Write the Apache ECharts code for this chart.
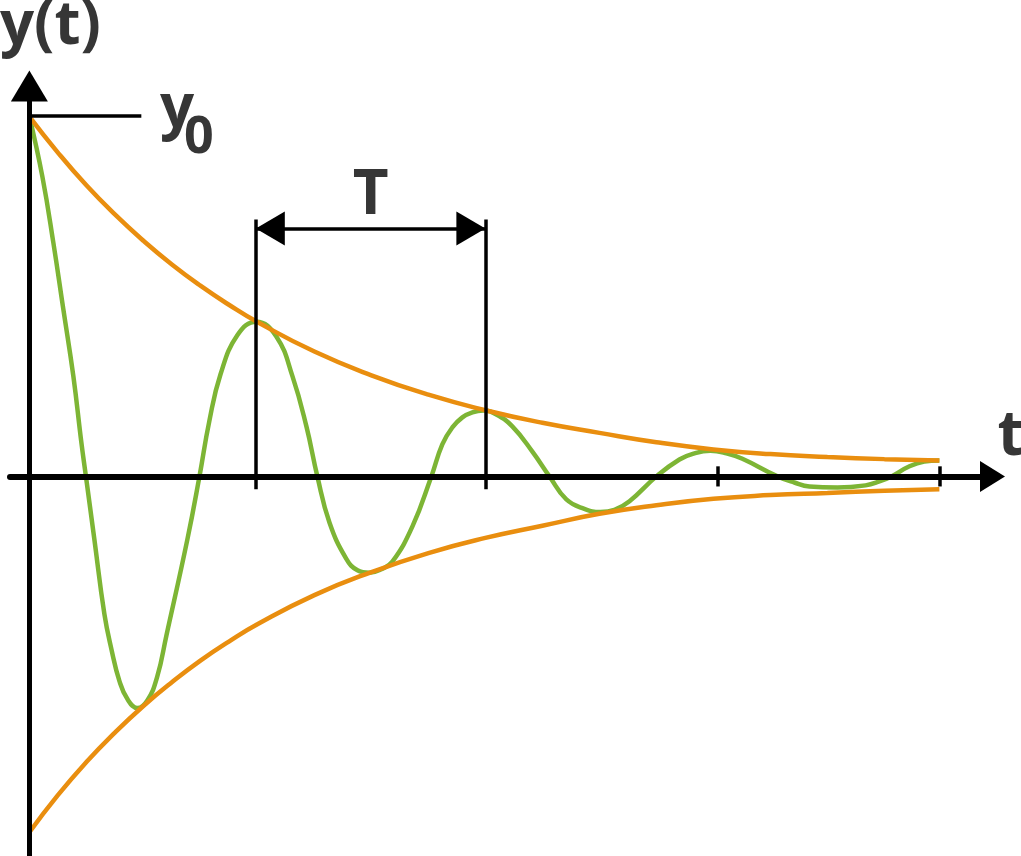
<!DOCTYPE html>
<html>
<head>
<meta charset="utf-8">
<script src="https://cdn.jsdelivr.net/npm/echarts@6/dist/echarts.min.js"></script>
<style>
html,body{margin:0;padding:0;background:#fff;}
#chart{width:1021px;height:856px;}
</style>
</head>
<body>
<div id="chart"></div>
<script>
// ---- data (t in periods T, y in units of y0) ----
const greenT = [0, 0.057, 0.105, 0.149, 0.193, 0.228, 0.248, 0.285, 0.329, 0.360, 0.395, 0.430, 0.474, 0.518, 0.561, 0.601, 0.693, 0.746, 0.789, 0.838, 0.912, 0.996, 1.083, 1.154, 1.215, 1.263, 1.316, 1.390, 1.439, 1.491, 1.544, 1.592, 1.680, 1.763, 1.811, 1.855, 1.899, 1.943, 1.991, 2.048, 2.118, 2.206, 2.281, 2.355, 2.434, 2.504, 2.566, 2.632, 2.750, 2.851, 2.917, 2.987, 3.057, 3.127, 3.281, 3.355, 3.421, 3.544, 3.667, 3.728, 3.781, 3.860, 3.925, 3.991];
const greenY = [1.0, 0.833, 0.650, 0.464, 0.278, 0.094, 0, -0.175, -0.383, -0.481, -0.569, -0.619, -0.644, -0.622, -0.556, -0.442, -0.175, 0, 0.153, 0.283, 0.392, 0.430, 0.389, 0.278, 0.139, 0, -0.128, -0.229, -0.261, -0.268, -0.258, -0.237, -0.139, 0, 0.089, 0.136, 0.164, 0.178, 0.183, 0.172, 0.139, 0.069, 0, -0.064, -0.090, -0.099, -0.093, -0.069, 0, 0.047, 0.064, 0.071, 0.064, 0.049, 0, -0.017, -0.028, -0.031, -0.025, -0.014, 0, 0.028, 0.041, 0.044];

const upperT = [0, 0.125, 0.25, 0.375, 0.5, 0.625, 0.75, 0.875, 1.0, 1.25, 1.5, 1.75, 2.0, 2.25, 2.5, 2.75, 3.0, 3.25, 3.5, 3.75, 3.991];
const upperY = [1.0, 0.900, 0.809, 0.728, 0.655, 0.589, 0.530, 0.477, 0.429, 0.347, 0.281, 0.227, 0.184, 0.149, 0.121, 0.095, 0.075, 0.062, 0.054, 0.048, 0.044];

const lowerT = [0, 0.125, 0.25, 0.375, 0.5, 0.625, 0.75, 0.875, 1.0, 1.25, 1.5, 1.75, 2.0, 2.25, 2.5, 2.75, 3.0, 3.25, 3.5, 3.75, 3.991];
const lowerY = [-0.989, -0.886, -0.794, -0.712, -0.638, -0.572, -0.512, -0.459, -0.411, -0.330, -0.266, -0.213, -0.171, -0.137, -0.104, -0.080, -0.062, -0.052, -0.046, -0.040, -0.036];

// annotation marks (data coordinates)
const y0LineT = [0, 0.491];
const y0Level = 1.003;
const periodEnds = [0.993, 2.0];
const bracketRange = [0.714, -0.036];
const arrowLevel = 0.689;
const tickT = [3.018, 3.991];
const tickRange = [0.028, -0.028];

// axis ranges
const tRange = [-0.085, 4.224];
const yRange = [-1.055, 1.085];

// labels
const yAxisName = 'y(t)';
const xAxisName = 't';
const periodLabel = 'T';
const y0Main = 'y';
const y0Sub = '0';

const ORANGE = '#e98e0f';
const GREEN = '#7db535';
const TEXT = '#363636';
const FONT = 'Open Sans';

const zip = (a, b) => a.map((v, i) => [v, b[i]]);

const chart = echarts.init(document.getElementById('chart'), null, {renderer: 'canvas'});

const markData = [
  [{coord: [y0LineT[0], y0Level]}, {coord: [y0LineT[1], y0Level]}],
  [{coord: [periodEnds[0], bracketRange[0]]}, {coord: [periodEnds[0], bracketRange[1]]}],
  [{coord: [periodEnds[1], bracketRange[0]]}, {coord: [periodEnds[1], bracketRange[1]]}],
  [{coord: [tickT[0], tickRange[0]]}, {coord: [tickT[0], tickRange[1]]}],
  [{coord: [tickT[1], tickRange[0]]}, {coord: [tickT[1], tickRange[1]]}],
  [
    {coord: [periodEnds[0], arrowLevel], symbol: 'triangle', symbolSize: [34, 29], symbolOffset: [0, 14.5],
     label: {show: true, formatter: periodLabel, position: 'middle', distance: 1,
             fontSize: 62, fontWeight: 'bold', fontFamily: FONT, color: TEXT}},
    {coord: [periodEnds[1], arrowLevel], symbol: 'triangle', symbolSize: [34, 29], symbolOffset: [0, 14.5]}
  ]
];

chart.setOption({
  animation: false,
  backgroundColor: '#fff',
  grid: {left: 10, right: 28.5, top: 86, bottom: 0, containLabel: false, outerBoundsMode: 'none'},
  xAxis: {
    type: 'value', min: tRange[0], max: tRange[1], z: 10,
    name: xAxisName, nameLocation: 'end', nameGap: 5, nameMoveOverlap: false,
    nameTextStyle: {fontSize: 62, fontWeight: 'bold', fontFamily: FONT, color: TEXT,
                    align: 'left', verticalAlign: 'bottom', padding: [0, 0, 8, 0]},
    axisLine: {show: true, onZero: true, symbol: ['none', 'triangle'], symbolSize: [31, 25],
               lineStyle: {color: '#000', width: 6}},
    axisTick: {show: false}, axisLabel: {show: false}, splitLine: {show: false}
  },
  yAxis: {
    type: 'value', min: yRange[0], max: yRange[1], z: 10,
    name: yAxisName, nameLocation: 'end', nameGap: 29, nameMoveOverlap: false,
    nameTextStyle: {fontSize: 60, fontWeight: 'bold', fontFamily: FONT, color: TEXT,
                    align: 'center', verticalAlign: 'bottom', padding: [0, 0, 0, 42]},
    axisLine: {show: true, onZero: true, symbol: ['none', 'triangle'], symbolSize: [37, 31],
               lineStyle: {color: '#000', width: 5}},
    axisTick: {show: false}, axisLabel: {show: false}, splitLine: {show: false}
  },
  series: [
    {
      name: 'y(t)', type: 'line', data: zip(greenT, greenY), smooth: 0.45, smoothConstraint: false,
      showSymbol: false, symbol: 'none', silent: true, z: 3,
      lineStyle: {color: GREEN, width: 4.5}
    },
    {
      name: 'upper', type: 'line', data: zip(upperT, upperY), smooth: 0.5, smoothConstraint: false,
      showSymbol: false, symbol: 'none', silent: true, z: 4,
      lineStyle: {color: ORANGE, width: 4.5}
    },
    {
      name: 'lower', type: 'line', data: zip(lowerT, lowerY), smooth: 0.5, smoothConstraint: false,
      showSymbol: false, symbol: 'none', silent: true, z: 4,
      lineStyle: {color: ORANGE, width: 4.5}
    },
    {
      name: 'marks', type: 'line', data: [], silent: true, z: 5,
      markLine: {
        silent: true, animation: false, symbol: 'none', precision: 4,
        lineStyle: {color: '#000', width: 3.5, type: 'solid'},
        label: {show: false},
        emphasis: {disabled: true},
        data: markData
      }
    }
  ],
  graphic: [
    {type: 'text', x: 160, y: 110, silent: true,
     style: {text: y0Main, fontSize: 60, fontWeight: 'bold', fontFamily: FONT, fill: TEXT, align: 'left', verticalAlign: 'middle'}},
    {type: 'text', x: 184, y: 138, silent: true,
     style: {text: y0Sub, fontSize: 52, fontWeight: 'bold', fontFamily: FONT, fill: TEXT, align: 'left', verticalAlign: 'middle'}}
  ]
});
</script>
</body>
</html>
